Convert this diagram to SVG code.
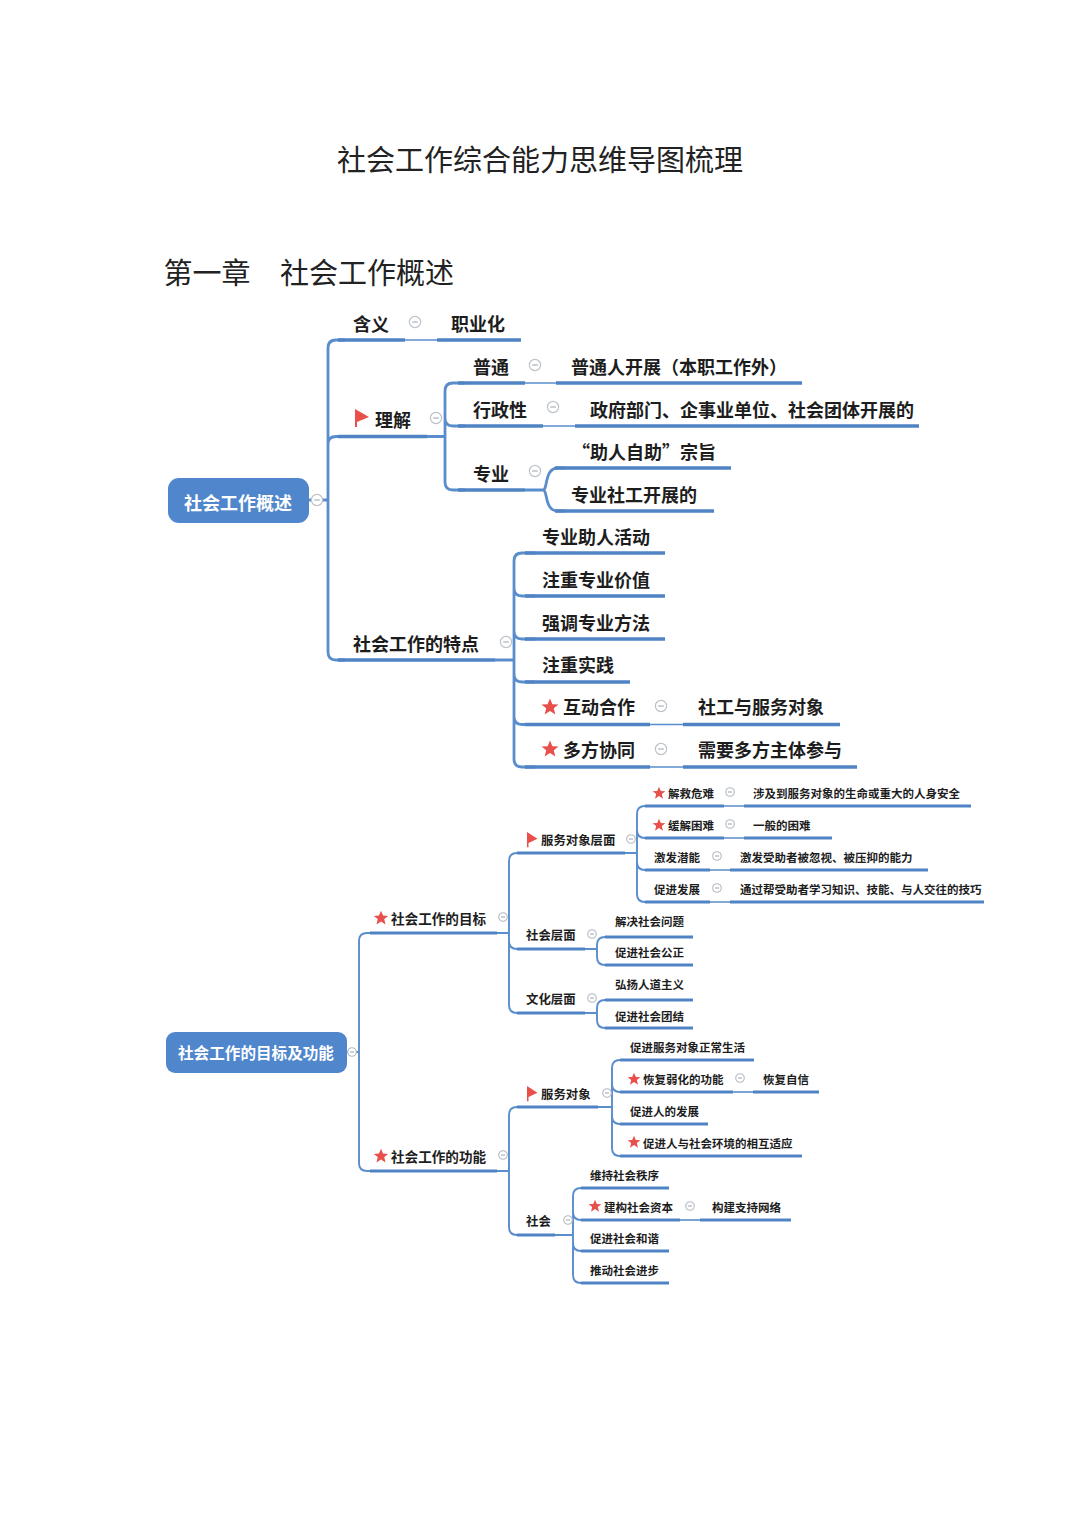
<svg xmlns="http://www.w3.org/2000/svg" width="1080" height="1527" viewBox="0 0 1080 1527">
<style>
text{font-family:"Noto Sans CJK SC","Liberation Sans",sans-serif;fill:#1d1d1d;font-weight:700}
.doc{font-weight:400;font-size:29px;fill:#222}
.a{font-size:18px}.b{font-size:13.6px}.c{font-size:12.4px}.d{font-size:11.5px}
.w{fill:#fff;text-anchor:middle}
.u{stroke:#4f83c4;stroke-width:3.5;fill:none}
.us{stroke:#4f83c4;stroke-width:3;fill:none}
.k{stroke:#5a8dcb;stroke-width:2.8;fill:none}
.k3{stroke:#5a8dcb;stroke-width:1.6;fill:none}
.k2{stroke:#5a8dcb;stroke-width:1.9;fill:none}
.root{fill:#4f86cc}
</style>
<defs>
<g id="col"><circle r="5.6" fill="#fff" stroke="#bcc3ca" stroke-width="1.2"/><path d="M-2.8 0H2.8" stroke="#9aa2aa" stroke-width="1"/></g>
<g id="cols"><circle r="4.3" fill="#fff" stroke="#b4bcc4" stroke-width="1.1"/><path d="M-2 0H2" stroke="#9aa2aa" stroke-width="1"/></g>
<polygon id="star" fill="#e8504c" points="0,-8.5 2.4,-2.8 8.5,-2.5 3.8,1.3 5.3,7.5 0,4 -5.3,7.5 -3.8,1.3 -8.5,-2.5 -2.4,-2.8"/>
<g id="flag"><path d="M0 0L14 8L2 13V18H0Z" fill="#e8504c"/></g>
</defs>
<text class="doc" x="540" y="171" text-anchor="middle">社会工作综合能力思维导图梳理</text>
<text class="doc" x="163.500" y="284">第一章</text>
<text class="doc" x="280" y="284">社会工作概述</text>

<g id="connectors">
<path class="k" d="M328 500V348Q328 340 336 340H345M328 500V444Q328 436.5 336 436.5H345M328 500V652Q328 660 336 660H345M309 500H328"/>
<path class="k3" d="M405 340H437M525 383H556M543 426H575"/>
<path class="k" d="M427 436.5H445M495 660H514"/>
<path class="k" d="M445 436.5V391Q445 383 453 383H465M445 436.5V418Q445 426 453 426H465M445 436.5V482Q445 490 453 490H465"/>
<path class="k" d="M525 490H543C548 490 544 468 558 468H565M543 490C548 490 544 511 558 511H565"/>
<path class="k" d="M514 660V561Q514 553 522 553H535M514 588Q514 596 522 596H535M514 631Q514 639 522 639H535M514 674Q514 682 522 682H535M514 660V759Q514 767 522 767H535M514 716.5Q514 724.5 522 724.5H535"/>
<path class="k3" d="M650 724.5H683M650 767H683"/>

<path class="k2" d="M347 1052H359M359 1052V941Q359 933 367 933H378M359 1052V1163Q359 1171 367 1171H378"/>
<path class="k2" d="M497 933H509M497 1171H509"/>
<path class="k2" d="M509 933V861Q509 853 517 853H527M509 941Q509 949 517 949H527M509 933V1005Q509 1013 517 1013H527"/>
<path class="k2" d="M625 853H637M637 853V814Q637 806 645 806H655M637 830Q637 838 645 838H655M637 862Q637 870 645 870H655M637 853V894Q637 902 645 902H655"/>
<path class="k3" d="M724 806H744M724 838H744M710 870H730M710 902H730"/>
<path class="k2" d="M585 949H597M597 949V945Q597 937 605 937H612M597 949V957Q597 965 605 965H612"/>
<path class="k2" d="M585 1013H597M597 1013V1008Q597 1000 605 1000H612M597 1013V1020Q597 1028 605 1028H612"/>
<path class="k2" d="M509 1171V1115Q509 1107 517 1107H527M509 1171V1227Q509 1235 517 1235H527"/>
<path class="k2" d="M598 1107H612M612 1107V1068Q612 1060 620 1060H630M612 1084Q612 1092 620 1092H630M612 1116Q612 1124 620 1124H630M612 1107V1148Q612 1156 620 1156H630"/>
<path class="k3" d="M733 1092H753"/>
<path class="k2" d="M555 1235H573M573 1235V1196Q573 1188 581 1188H590M573 1212Q573 1220 581 1220H590M573 1243Q573 1251 581 1251H590M573 1235V1275Q573 1283 581 1283H590"/>
<path class="k3" d="M680 1220H700"/>
</g>

<g id="root1"><rect class="root" x="168" y="478" width="141" height="45" rx="11"/><text class="a w" x="238" y="510">社会工作概述</text><use href="#col" x="317" y="500"/></g>
<g id="n-hanyi"><path class="u" d="M338 340H405"/><text class="a" x="353" y="331">含义</text><use href="#col" x="415" y="322"/></g>
<g id="n-zhiyehua"><path class="u" d="M437 340H521"/><text class="a" x="451" y="331">职业化</text></g>
<g id="n-lijie"><path class="u" d="M338 436.5H427"/><use href="#flag" x="355" y="409"/><text class="a" x="375" y="427">理解</text><use href="#col" x="436" y="418"/></g>
<g id="n-putong"><path class="u" d="M458 383H525"/><text class="a" x="473" y="374">普通</text><use href="#col" x="535" y="365"/></g>
<g id="n-putong2"><path class="u" d="M556 383H802"/><text class="a" x="571" y="374">普通人开展（本职工作外）</text></g>
<g id="n-xingzheng"><path class="u" d="M458 426H543"/><text class="a" x="473" y="417">行政性</text><use href="#col" x="553" y="407"/></g>
<g id="n-xingzheng2"><path class="u" d="M575 426H919"/><text class="a" x="590" y="417">政府部门、企事业单位、社会团体开展的</text></g>
<g id="n-zhuanye"><path class="u" d="M458 490H525"/><text class="a" x="473" y="481">专业</text><use href="#col" x="535" y="471"/></g>
<g id="n-zhuren"><path class="u" d="M555 468H731"/><text class="a" x="572" y="459">“助人自助”宗旨</text></g>
<g id="n-sg"><path class="u" d="M555 511H714"/><text class="a" x="571" y="502">专业社工开展的</text></g>
<g id="n-tedian"><path class="u" d="M338 660H495"/><text class="a" x="353" y="651">社会工作的特点</text><use href="#col" x="506" y="642"/></g>
<g id="n-t1"><path class="u" d="M525 553H665"/><text class="a" x="542" y="544">专业助人活动</text></g>
<g id="n-t2"><path class="u" d="M525 596H665"/><text class="a" x="542" y="587">注重专业价值</text></g>
<g id="n-t3"><path class="u" d="M525 639H665"/><text class="a" x="542" y="630">强调专业方法</text></g>
<g id="n-t4"><path class="u" d="M525 682H630"/><text class="a" x="542" y="672">注重实践</text></g>
<g id="n-t5"><path class="u" d="M525 724.5H650"/><use href="#star" x="550" y="707"/><text class="a" x="563" y="714">互动合作</text><use href="#col" x="661" y="706"/></g>
<g id="n-t5b"><path class="u" d="M683 724.5H840"/><text class="a" x="698" y="714">社工与服务对象</text></g>
<g id="n-t6"><path class="u" d="M525 767H650"/><use href="#star" x="550" y="749"/><text class="a" x="563" y="757">多方协同</text><use href="#col" x="661" y="749"/></g>
<g id="n-t6b"><path class="u" d="M683 767H857"/><text class="a" x="698" y="757">需要多方主体参与</text></g>

<g id="root2"><rect class="root" x="166" y="1032" width="181" height="41" rx="9"/><text class="w" style="font-size:15.6px" x="256" y="1059">社会工作的目标及功能</text><use href="#cols" x="352" y="1052"/></g>
<g id="n-mubiao"><path class="us" d="M370 933H497"/><use href="#star" transform="translate(381 918) scale(.85)"/><text class="b" x="391" y="924">社会工作的目标</text><use href="#cols" x="503" y="917"/></g>
<g id="n-fw"><path class="us" d="M517 853H625"/><use href="#flag" transform="translate(527 832) scale(.75 .85)"/><text class="c" x="541" y="845">服务对象层面</text><use href="#cols" x="631" y="839"/></g>
<g id="n-m1"><path class="us" d="M645 806H724"/><use href="#star" transform="translate(659 793) scale(.75)"/><text class="d" x="668" y="798">解救危难</text><use href="#cols" x="730" y="792"/></g>
<g id="n-m1b"><path class="us" d="M744 806H971"/><text class="d" x="753" y="798">涉及到服务对象的生命或重大的人身安全</text></g>
<g id="n-m2"><path class="us" d="M645 838H724"/><use href="#star" transform="translate(659 825) scale(.75)"/><text class="d" x="668" y="830">缓解困难</text><use href="#cols" x="730" y="824"/></g>
<g id="n-m2b"><path class="us" d="M744 838H832"/><text class="d" x="753" y="830">一般的困难</text></g>
<g id="n-m3"><path class="us" d="M645 870H710"/><text class="d" x="654" y="862">激发潜能</text><use href="#cols" x="717" y="856"/></g>
<g id="n-m3b"><path class="us" d="M730 870H928"/><text class="d" x="740" y="862">激发受助者被忽视、被压抑的能力</text></g>
<g id="n-m4"><path class="us" d="M645 902H710"/><text class="d" x="654" y="894">促进发展</text><use href="#cols" x="717" y="888"/></g>
<g id="n-m4b"><path class="us" d="M730 902H984"/><text class="d" x="740" y="893.500">通过帮受助者学习知识、技能、与人交往的技巧</text></g>
<g id="n-sh"><path class="us" d="M517 949H585"/><text class="c" x="526" y="940">社会层面</text><use href="#cols" x="592" y="934"/></g>
<g id="n-sh1"><path class="us" d="M605 937H693"/><text class="d" x="615" y="925.500">解决社会问题</text></g>
<g id="n-sh2"><path class="us" d="M605 965H693"/><text class="d" x="615" y="957">促进社会公正</text></g>
<g id="n-wh"><path class="us" d="M517 1013H585"/><text class="c" x="526" y="1004">文化层面</text><use href="#cols" x="592" y="998"/></g>
<g id="n-wh1"><path class="us" d="M605 1000H693"/><text class="d" x="615" y="989">弘扬人道主义</text></g>
<g id="n-wh2"><path class="us" d="M605 1028H693"/><text class="d" x="615" y="1020.500">促进社会团结</text></g>
<g id="n-gongneng"><path class="us" d="M370 1171H497"/><use href="#star" transform="translate(381 1156) scale(.85)"/><text class="b" x="391" y="1162">社会工作的功能</text><use href="#cols" x="503" y="1155"/></g>
<g id="n-fw2"><path class="us" d="M517 1107H598"/><use href="#flag" transform="translate(527 1086) scale(.75 .85)"/><text class="c" x="541" y="1099">服务对象</text><use href="#cols" x="607" y="1093"/></g>
<g id="n-f1"><path class="us" d="M620 1060H754"/><text class="d" x="630" y="1052">促进服务对象正常生活</text></g>
<g id="n-f2"><path class="us" d="M620 1092H733"/><use href="#star" transform="translate(634 1079) scale(.75)"/><text class="d" x="643" y="1084">恢复弱化的功能</text><use href="#cols" x="740" y="1078"/></g>
<g id="n-f2b"><path class="us" d="M753 1092H819"/><text class="d" x="763" y="1084">恢复自信</text></g>
<g id="n-f3"><path class="us" d="M620 1124H708"/><text class="d" x="630" y="1116">促进人的发展</text></g>
<g id="n-f4"><path class="us" d="M620 1156H802"/><use href="#star" transform="translate(634 1142) scale(.75)"/><text class="d" x="643" y="1148">促进人与社会环境的相互适应</text></g>
<g id="n-she"><path class="us" d="M517 1235H555"/><text class="c" x="526" y="1226">社会</text><use href="#cols" x="568" y="1220"/></g>
<g id="n-s1"><path class="us" d="M581 1188H669"/><text class="d" x="590" y="1179.500">维持社会秩序</text></g>
<g id="n-s2"><path class="us" d="M581 1220H680"/><use href="#star" transform="translate(595 1206) scale(.75)"/><text class="d" x="604" y="1211.500">建构社会资本</text><use href="#cols" x="690" y="1206"/></g>
<g id="n-s2b"><path class="us" d="M700 1220H791"/><text class="d" x="712" y="1211.500">构建支持网络</text></g>
<g id="n-s3"><path class="us" d="M581 1251H669"/><text class="d" x="590" y="1243">促进社会和谐</text></g>
<g id="n-s4"><path class="us" d="M581 1283H669"/><text class="d" x="590" y="1275">推动社会进步</text></g>
</svg>
